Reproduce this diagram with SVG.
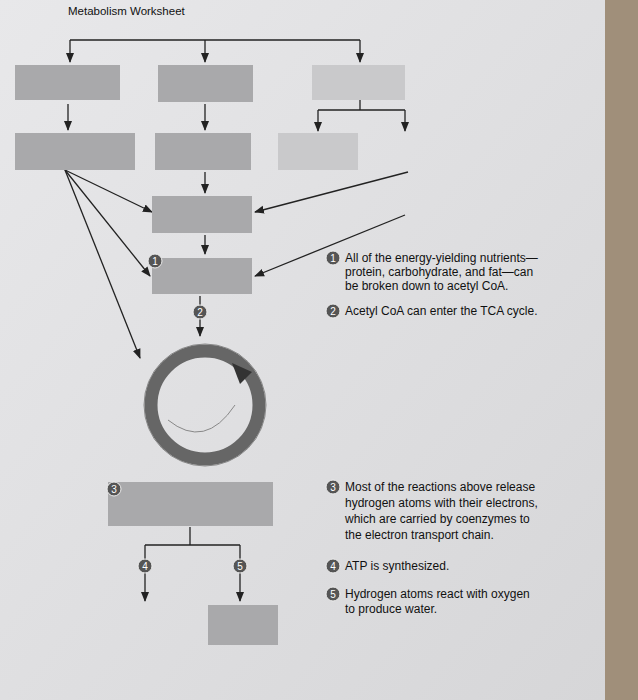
<svg xmlns="http://www.w3.org/2000/svg" width="638" height="700" viewBox="0 0 638 700">
<defs>
<marker id="ah" markerWidth="10" markerHeight="10" refX="9" refY="5" orient="auto" markerUnits="userSpaceOnUse"><path d="M0,1 L10,5 L0,9 Z" fill="#222"/></marker>
<linearGradient id="bg" x1="0" y1="0" x2="1" y2="1"><stop offset="0" stop-color="#e8e8ea"/><stop offset="1" stop-color="#d6d6d8"/></linearGradient>
</defs>
<style>
.b{fill:#a9a9ab}.bl{fill:#c9c9cb}
.c line,.c polyline{stroke:#222;stroke-width:1.3;fill:none}
.n{fill:#555;stroke:#eee;stroke-width:1}
.nt{font-family:"Liberation Sans",Arial,sans-serif;font-size:10px;fill:#fff;text-anchor:middle}
.t{font-family:"Liberation Sans",Arial,sans-serif;font-size:12px;fill:#111}
</style>
<rect width="638" height="700" fill="#a08f7a"/>
<rect width="605" height="700" fill="url(#bg)"/>
<text x="68" y="15" class="t" style="font-size:11.5px">Metabolism Worksheet</text>
<g class="c">
<polyline points="70,40 360,40"/>
<line x1="70" y1="40" x2="70" y2="62" marker-end="url(#ah)"/>
<line x1="205" y1="40" x2="205" y2="62" marker-end="url(#ah)"/>
<line x1="360" y1="40" x2="360" y2="62" marker-end="url(#ah)"/>
<line x1="68" y1="104" x2="68" y2="130" marker-end="url(#ah)"/>
<line x1="205" y1="104" x2="205" y2="130" marker-end="url(#ah)"/>
<polyline points="360,100 360,110"/><polyline points="318,110 405,110"/>
<line x1="318" y1="110" x2="318" y2="131" marker-end="url(#ah)"/>
<line x1="405" y1="110" x2="405" y2="131" marker-end="url(#ah)"/>
<line x1="205" y1="172" x2="205" y2="193" marker-end="url(#ah)"/>
<line x1="65" y1="170" x2="152" y2="212" marker-end="url(#ah)"/>
<line x1="408" y1="172" x2="255" y2="212" marker-end="url(#ah)"/>
<line x1="205" y1="235" x2="205" y2="254" marker-end="url(#ah)"/>
<line x1="65" y1="170" x2="150" y2="276" marker-end="url(#ah)"/>
<line x1="405" y1="215" x2="255" y2="276" marker-end="url(#ah)"/>
<line x1="200" y1="296" x2="200" y2="336" marker-end="url(#ah)"/>
<line x1="65" y1="170" x2="140" y2="358" marker-end="url(#ah)"/>
<line x1="190" y1="527" x2="190" y2="545"/>
<polyline points="145,545 240,545"/>
<line x1="145" y1="545" x2="145" y2="601" marker-end="url(#ah)"/>
<line x1="240" y1="545" x2="240" y2="601" marker-end="url(#ah)"/>
</g>
<g id="b1"><rect class="b" x="15" y="65" width="105" height="35"/></g>
<g id="b2"><rect class="b" x="158" y="65" width="95" height="37"/></g>
<g id="b3"><rect class="bl" x="312" y="65" width="93" height="35"/></g>
<g id="b4"><rect class="b" x="15" y="133" width="120" height="37"/></g>
<g id="b5"><rect class="b" x="155" y="133" width="96" height="37"/></g>
<g id="b6"><rect class="bl" x="278" y="133" width="80" height="37"/></g>
<g id="b7"><rect class="b" x="152" y="196" width="100" height="37"/></g>
<g id="b8"><rect class="b" x="152" y="258" width="100" height="36"/></g>
<g id="cycle">
<circle cx="205" cy="405" r="54" fill="none" stroke="#666" stroke-width="13"/>
<circle cx="205" cy="405" r="61" fill="none" stroke="#888" stroke-width="1"/>
<path d="M232,363 L252,372 L240,384 Z" fill="#333"/>
<path d="M168,420 Q205,450 235,405" fill="none" stroke="#888" stroke-width="1"/>
</g>
<g id="b9"><rect class="b" x="108" y="482" width="165" height="44"/></g>
<g id="b10"><rect class="b" x="208" y="605" width="70" height="40"/></g>
<g id="nums">
<circle class="n" cx="155" cy="261" r="7"/><text class="nt" x="155" y="265">1</text>
<circle class="n" cx="200" cy="312" r="7"/><text class="nt" x="200" y="316">2</text>
<circle class="n" cx="114" cy="489" r="7"/><text class="nt" x="114" y="493">3</text>
<circle class="n" cx="145" cy="566" r="7"/><text class="nt" x="145" y="570">4</text>
<circle class="n" cx="240" cy="566" r="7"/><text class="nt" x="240" y="570">5</text>
<circle class="n" cx="333" cy="258" r="7"/><text class="nt" x="333" y="262">1</text>
<circle class="n" cx="333" cy="311" r="7"/><text class="nt" x="333" y="315">2</text>
<circle class="n" cx="333" cy="487" r="7"/><text class="nt" x="333" y="491">3</text>
<circle class="n" cx="333" cy="566" r="7"/><text class="nt" x="333" y="570">4</text>
<circle class="n" cx="333" cy="594" r="7"/><text class="nt" x="333" y="598">5</text>
</g>
<g id="notes" class="t">
<text x="345" y="262">All of the energy-yielding nutrients—</text>
<text x="345" y="276">protein, carbohydrate, and fat—can</text>
<text x="345" y="290">be broken down to acetyl CoA.</text>
<text x="345" y="315">Acetyl CoA can enter the TCA cycle.</text>
<text x="345" y="491">Most of the reactions above release</text>
<text x="345" y="507">hydrogen atoms with their electrons,</text>
<text x="345" y="523">which are carried by coenzymes to</text>
<text x="345" y="539">the electron transport chain.</text>
<text x="345" y="570">ATP is synthesized.</text>
<text x="345" y="598">Hydrogen atoms react with oxygen</text>
<text x="345" y="613">to produce water.</text>
</g>
</svg>
